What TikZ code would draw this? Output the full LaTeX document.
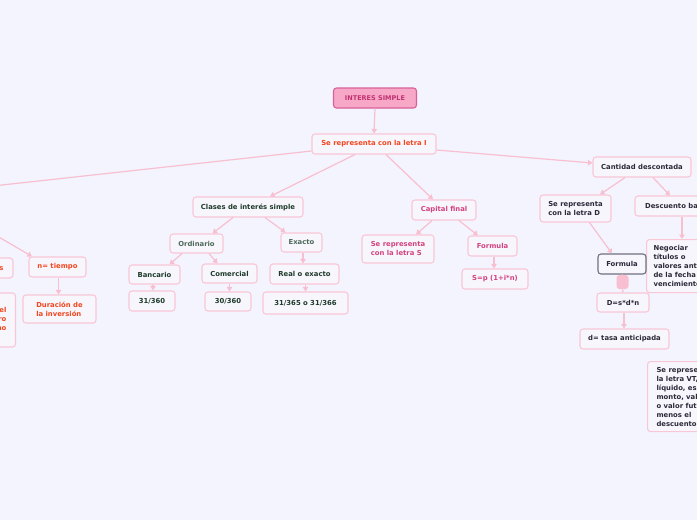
\documentclass[tikz,border=0pt]{standalone}
\usepackage{fontspec}
\setmainfont{DejaVu Sans}
\usetikzlibrary{arrows.meta,calc}
\definecolor{bg}{HTML}{F3F4FD}
\definecolor{bxfill}{HTML}{F8F6FD}
\definecolor{bxborder}{HTML}{F9C6D6}
\definecolor{edgecol}{HTML}{F8BFD0}
\definecolor{intfill}{HTML}{F7A8C7}
\definecolor{intborder}{HTML}{D8609A}
\definecolor{intcol}{HTML}{C23272}
\definecolor{orangec}{HTML}{F2461E}
\definecolor{pinkc}{HTML}{D2437E}
\definecolor{greenc}{HTML}{1E3B2A}
\definecolor{greyg}{HTML}{4C6A5A}
\definecolor{darkc}{HTML}{2A2A38}
\definecolor{grayb}{HTML}{707080}
\newcommand{\fs}{\bfseries\fontsize{6.85}{9}\selectfont}
\tikzset{
  box/.style={draw=bxborder, fill=bxfill, rounded corners=3pt, line width=1.1pt, inner sep=0pt, font=\fs, align=center},
  sz/.style 2 args={minimum width=#1pt, minimum height=#2pt},
  edge/.style={draw=edgecol, line width=1.2pt, -{Triangle[length=4.5pt,width=5.5pt]}},
  plain/.style={draw=edgecol, line width=1.2pt},
  orn/.style={text=orangec},
  pnk/.style={text=pinkc},
  grn/.style={text=greenc},
  gg/.style={text=greyg},
  drk/.style={text=darkc},
}
\begin{document}
\begin{tikzpicture}[x=1pt,y=-1pt]
\useasboundingbox (0,0) rectangle (697,520);
\fill[bg] (0,0) rectangle (697,520);
\clip (0,0) rectangle (697,520);

% nodes
\node[box, sz={83}{20}, fill=intfill, draw=intborder, text=intcol, font=\bfseries\fontsize{6.5}{9}\selectfont] (int) at (375,98) {INTERES SIMPLE};
\node[box, sz={124}{20}, orn] (seI) at (374,144) {Se representa con la letra I};

\node[box, sz={110}{20}, grn] (clases) at (248,207) {Clases de interés simple};
\node[box, sz={53}{19}, gg] (ord) at (196.5,243.5) {Ordinario};
\node[box, sz={41}{19}, gg] (exa) at (301.5,242.5) {Exacto};
\node[box, sz={51}{19}, grn] (banc) at (154.5,274.5) {Bancario};
\node[box, sz={55}{19}, grn] (com) at (229.5,273.5) {Comercial};
\node[box, sz={69}{20}, grn] (real) at (304.5,274) {Real o exacto};
\node[box, sz={46}{20}, grn] (b360) at (152,301) {31/360};
\node[box, sz={46}{19}, grn] (c360) at (228,301.5) {30/360};
\node[box, sz={85}{22}, grn] (r365) at (305.5,303) {31/365 o 31/366};

\node[box, sz={64}{20}, pnk] (cap) at (444,210) {Capital final};
\node[box, sz={72}{28}, pnk, align=left] (seS) at (398,249) {Se representa\\con la letra S};
\node[box, sz={49}{20}, pnk] (form1) at (492.5,246) {Formula};
\node[box, sz={66}{20}, pnk] (spn) at (495,279) {S=p (1+i*n)};

\node[box, sz={98}{20}, drk] (cant) at (642,167) {Cantidad descontada};
\node[box, sz={71}{27}, drk, align=left] (seD) at (575.5,208.5) {Se representa\\con la letra D};
\node[box, sz={97}{20}, drk] (desc) at (683.5,206) {Descuento bancario};
\node[box, drk, align=left, anchor=north west, inner xsep=7pt, minimum height=53pt] (neg) at (646,239) {Negociar\\títulos o\\valores antes\\de la fecha de\\vencimiento};
\node[box, sz={48}{20}, drk, draw=grayb] (form2) at (622,264) {Formula};
\node[box, sz={12}{14}, draw=none, fill=edgecol] (stub) at (622.5,282) {};
\node[box, sz={52}{19}, drk] (dsdn) at (623,302.5) {D=s*d*n};
\node[box, sz={89}{20}, drk] (tasa) at (624.5,339) {d= tasa anticipada};
\node[box, drk, align=left, anchor=north west, inner xsep=9pt, minimum height=70pt] (vt) at (647,361) {Se representa con\\la letra VT, valor\\líquido, es el\\monto, valor final\\o valor futuro\\menos el\\descuento};

\node[box, sz={57}{20}, orn] (ntiempo) at (57.5,267) {n= tiempo};
\node[box, sz={73}{28}, orn, align=left] (dur) at (59.5,309) {Duración de\\la inversión};
\node[box, orn, anchor=east, inner xsep=9.5pt, minimum height=20pt] (tasai) at (13.5,268) {i= tasa de interés};
\node[box, orn, anchor=east, inner xsep=9pt, minimum height=54pt, align=right] (desci) at (16,320) {Valor que se paga por el\\uso del dinero\\ajeno};

\coordinate (offA) at (-20,187.4);
\coordinate (offB) at (-20,226);
\coordinate (dn) at ([xshift=-1.5pt]desc.south);

% connectors
\draw[edge] (int.south) -- (seI.north);
\draw[plain] ([yshift=-7pt]seI.west) -- (offA);
\draw[edge] ([xshift=-19pt]seI.south) -- ([xshift=22pt]clases.north);
\draw[edge] ([xshift=12pt]seI.south) -- ([xshift=-11pt]cap.north);
\draw[edge] ([yshift=-6pt]seI.east) -- ([yshift=4pt]cant.west);

\draw[edge] ([xshift=-15pt]clases.south) -- ([xshift=16pt]ord.north);
\draw[edge] ([xshift=17pt]clases.south) -- ([xshift=-16pt]exa.north);
\draw[edge] ([xshift=-14.5pt]ord.south) -- ([xshift=15pt]banc.north);
\draw[edge] ([xshift=12.5pt]ord.south) -- ([xshift=-12pt]com.north);
\draw[edge] ([xshift=1.5pt]exa.south) -- ([xshift=-1.5pt]real.north);
\draw[edge] ([xshift=-1.5pt]banc.south) -- ([xshift=1pt]b360.north);
\draw[edge] (com.south) -- ([xshift=1.5pt]c360.north);
\draw[edge] ([xshift=1pt]real.south) -- (r365.north);

\draw[edge] ([xshift=-12pt]cap.south) -- ([xshift=18pt]seS.north);
\draw[edge] ([xshift=15pt]cap.south) -- ([xshift=-14.5pt]form1.north);
\draw[edge] ([xshift=1.5pt]form1.south) -- ([xshift=-1pt]spn.north);

\draw[edge] ([xshift=-17pt]cant.south) -- ([xshift=24.5pt]seD.north);
\draw[edge] ([xshift=11pt]cant.south) -- ([xshift=-13.5pt]desc.north);
\draw[edge] (dn) -- (dn |- neg.north);
\draw[edge] ([xshift=14pt]seD.south) -- ([xshift=-10pt]form2.north);
\draw[plain] (form2.south) -- (stub.north);
\draw[plain] (stub.south) -- (dsdn.north);
\draw[edge] ([xshift=1pt]dsdn.south) -- ([xshift=-0.5pt]tasa.north);

\draw[edge] (offB) -- ([xshift=-25.5pt]ntiempo.north);
\draw[edge] ([xshift=1pt]ntiempo.south) -- ([xshift=-1pt]dur.north);
\end{tikzpicture}
\end{document}
